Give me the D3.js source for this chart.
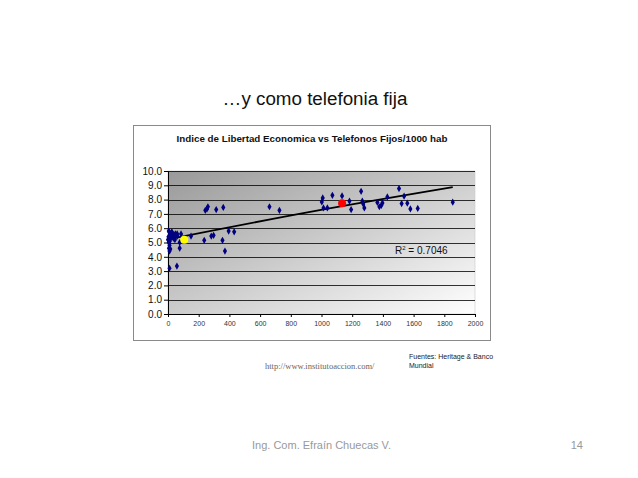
<!DOCTYPE html>
<html>
<head>
<meta charset="utf-8">
<script src="https://cdn.jsdelivr.net/npm/d3@7"></script>
<style>
  html, body { margin: 0; padding: 0; background: #fff; }
  svg { display: block; font-family: "Liberation Sans", Arial, sans-serif; }
</style>
</head>
<body>
<svg id="mainsvg" width="638" height="478"></svg>
<script>
// telefonos fijos por 1000 hab (x) vs indice de libertad economica (y)
const phonesX = [0, 3, 5, 8, 10, 12, 15, 20, 25, 30, 40, 50, 60, 5, 10, 6, 10, 15, 35, 45, 20, 60,
  10, 58, 76, 76, 85, 150, 236, 243, 254, 260, 314, 282, 297, 360, 355, 371, 395, 431, 661, 726,
  1002, 1008, 1013, 1038, 1071, 1134, 1182, 1193, 1258, 1266, 1272, 1279, 1364, 1377, 1390, 1397,
  1429, 1505, 1538, 1522, 1559, 1579, 1627, 1855];
const freedomY = [5.2, 5.4, 5.8, 5.3, 5.7, 5.1, 5.6, 5.5, 5.75, 5.6, 5.55, 5.6, 5.45, 5.0, 4.8, 4.6, 4.4, 4.55, 5.3, 5.2, 5.35, 5.6,
  3.2, 3.35, 4.6, 5.0, 5.6, 5.45, 5.15, 7.25, 7.35, 7.5, 7.3, 5.45, 5.5, 7.45, 5.15, 4.4, 5.8, 5.75, 7.5, 7.25,
  7.84, 8.12, 7.42, 7.42, 8.3, 8.26, 7.9, 7.3, 8.58, 7.9, 7.7, 7.42, 7.8, 7.5, 7.6, 7.77,
  8.19, 8.77, 8.24, 7.72, 7.75, 7.35, 7.38, 7.82];
const highlightX = [106, 1134];
const highlightY = [5.2, 7.75];
const highlightColor = ['#ffff00', '#ff0000'];
const trendX = [0, 926, 1855];
const trendY = [5.22, 7.14, 8.87];
const xTicks = [0, 200, 400, 600, 800, 1000, 1200, 1400, 1600, 1800, 2000];
const yTicks = [0, 1, 2, 3, 4, 5, 6, 7, 8, 9, 10];

const svg = d3.select('#mainsvg');

// slide title
svg.append('text')
  .attr('x', 315).attr('y', 105)
  .attr('text-anchor', 'middle')
  .attr('font-size', 18.8)
  .attr('fill', '#111')
  .text('\u2026y como telefonia fija');

// chart frame
svg.append('rect')
  .attr('x', 133.5).attr('y', 125.5)
  .attr('width', 357).attr('height', 215)
  .attr('fill', '#fff')
  .attr('stroke', '#8a8a8a');

svg.append('text')
  .attr('x', 312).attr('y', 142)
  .attr('text-anchor', 'middle')
  .attr('font-size', 9.8)
  .attr('font-weight', 'bold')
  .attr('fill', '#111')
  .text('Indice de Libertad Economica vs Telefonos Fijos/1000 hab');

const x = d3.scaleLinear().domain([0, 2000]).range([168, 475]);
const y = d3.scaleLinear().domain([0, 10]).range([314, 171]);

const defs = svg.append('defs');
const grad = defs.append('linearGradient')
  .attr('id', 'plotbg')
  .attr('x1', 0).attr('y1', 0).attr('x2', 1).attr('y2', 1);
grad.append('stop').attr('offset', '0%').attr('stop-color', '#999999');
grad.append('stop').attr('offset', '100%').attr('stop-color', '#ffffff');

svg.append('rect')
  .attr('x', x(0)).attr('y', y(10))
  .attr('width', x(2000) - x(0)).attr('height', y(0) - y(10))
  .attr('fill', 'url(#plotbg)')
  .attr('stroke', '#c8c8c8')
  .attr('stroke-width', 0.6);

// grid lines
svg.append('g')
  .selectAll('line')
  .data(yTicks.slice(1))
  .join('line')
  .attr('x1', x(0)).attr('x2', x(2000))
  .attr('y1', d => Math.round(y(d)) + 0.5).attr('y2', d => Math.round(y(d)) + 0.5)
  .attr('stroke', '#000')
  .attr('stroke-width', 0.8);

// axes
const yAxis = svg.append('g')
  .attr('transform', `translate(${x(0)},0)`)
  .call(d3.axisLeft(y).tickValues(yTicks).tickFormat(d3.format('.1f')).tickSize(4).tickPadding(2));
yAxis.selectAll('text').attr('font-size', 10).attr('fill', '#111').attr('font-family', '"Liberation Sans", Arial, sans-serif');

const xAxis = svg.append('g')
  .attr('transform', `translate(0,${y(0)})`)
  .call(d3.axisBottom(x).tickValues(xTicks).tickFormat(d3.format('d')).tickSize(3).tickPadding(4));
xAxis.selectAll('text').attr('font-size', 7).attr('fill', '#333').attr('font-family', '"Liberation Sans", Arial, sans-serif');
svg.selectAll('.domain').attr('stroke', '#000');

// trend line
svg.append('path')
  .datum(trendX.map((d, i) => [d, trendY[i]]))
  .attr('d', d3.line().x(d => x(d[0])).y(d => y(d[1])).curve(d3.curveMonotoneX))
  .attr('fill', 'none')
  .attr('stroke', '#000')
  .attr('stroke-width', 1.8);

// points
const diamond = d3.symbol().type(d3.symbolDiamond).size(15);
svg.append('g')
  .selectAll('path')
  .data(phonesX.map((d, i) => [d, freedomY[i]]))
  .join('path')
  .attr('transform', d => `translate(${x(d[0])},${y(d[1])})`)
  .attr('d', diamond)
  .attr('fill', '#000080');

svg.append('g')
  .selectAll('circle')
  .data(highlightX.map((d, i) => [d, highlightY[i], highlightColor[i]]))
  .join('circle')
  .attr('cx', d => x(d[0])).attr('cy', d => y(d[1]))
  .attr('r', 4)
  .attr('fill', d => d[2]);

// R squared
const r2 = svg.append('text')
  .attr('x', 395).attr('y', 253.5)
  .attr('font-size', 10)
  .attr('fill', '#111');
r2.append('tspan').text('R');
r2.append('tspan').attr('dy', -4).attr('font-size', 6).text('2');
r2.append('tspan').attr('dy', 4).text(' = 0.7046');

// sources
svg.append('text')
  .attr('x', 265).attr('y', 369)
  .attr('font-family', '"Liberation Serif", "Times New Roman", serif')
  .attr('font-size', 8.5)
  .attr('fill', '#666')
  .text('http://www.institutoaccion.com/');

svg.append('g')
  .selectAll('text')
  .data(['Fuentes: Heritage & Banco', 'Mundial'])
  .join('text')
  .attr('x', 409).attr('y', (d, i) => 359 + i * 8.5)
  .attr('font-size', 7)
  .attr('fill', '#222')
  .text(d => d);

// footer
svg.append('text')
  .attr('x', 252).attr('y', 449)
  .attr('font-size', 11)
  .attr('fill', '#999')
  .text('Ing. Com. Efra\u00edn Chuecas V.');

svg.append('text')
  .attr('x', 583).attr('y', 449)
  .attr('text-anchor', 'end')
  .attr('font-size', 11)
  .attr('fill', '#999')
  .text('14');
</script>
</body>
</html>
